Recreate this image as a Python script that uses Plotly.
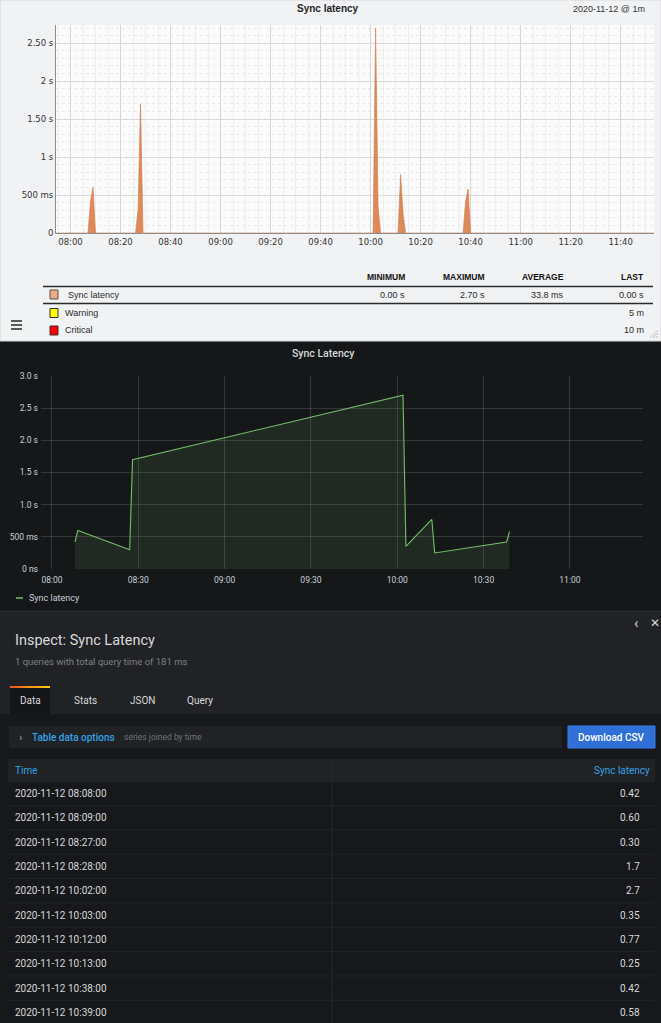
import plotly.graph_objects as go
from datetime import datetime, timedelta

W, H = 661, 1023

# ---------------- data ----------------
times = ["2020-11-12 08:08:00", "2020-11-12 08:09:00", "2020-11-12 08:27:00",
         "2020-11-12 08:28:00", "2020-11-12 10:02:00", "2020-11-12 10:03:00",
         "2020-11-12 10:12:00", "2020-11-12 10:13:00", "2020-11-12 10:38:00",
         "2020-11-12 10:39:00"]
latency = [0.42, 0.60, 0.30, 1.7, 2.7, 0.35, 0.77, 0.25, 0.42, 0.58]

legend_headers = ["MINIMUM", "MAXIMUM", "AVERAGE", "LAST"]
legend_stats = ["0.00 s", "2.70 s", "33.8 ms", "0.00 s"]
threshold_names = ["Warning", "Critical"]
threshold_values = ["5 m", "10 m"]

top_yvals = [0, 0.5, 1, 1.5, 2, 2.5]
top_ylabels = ["0", "500 ms", "1 s", "1.50 s", "2 s", "2.50 s"]
dark_yvals = [0, 0.5, 1, 1.5, 2, 2.5, 3]
dark_ylabels = ["0 ns", "500 ms", "1.0 s", "1.5 s", "2.0 s", "2.5 s", "3.0 s"]
tabs = ["Data", "Stats", "JSON", "Query"]

# zero-filled 1-minute series as the top (Zabbix-style) graph shows it
fmt = "%Y-%m-%d %H:%M:%S"
lookup = {datetime.strptime(t, fmt): v for t, v in zip(times, latency)}
start = datetime(2020, 11, 12, 7, 54)
end = datetime(2020, 11, 12, 11, 54)
grid_t, grid_v = [], []
t = start
while t <= end:
    grid_t.append(t)
    grid_v.append(lookup.get(t, 0.0))
    t += timedelta(minutes=1)


def px(x):
    return x / W


def py(y):
    return 1 - y / H


shapes = []
annotations = []


def rect(x0, y0, x1, y1, fill, line=None, lw=0, layer="below"):
    shapes.append(dict(type="rect", xref="paper", yref="paper",
                       x0=px(x0), x1=px(x1), y0=py(y1), y1=py(y0),
                       fillcolor=fill, layer=layer,
                       line=dict(color=line or fill, width=lw)))


def hline(x0, x1, y, color, lw=1, layer="below"):
    shapes.append(dict(type="line", xref="paper", yref="paper",
                       x0=px(x0), x1=px(x1), y0=py(y), y1=py(y), layer=layer,
                       line=dict(color=color, width=lw)))


def vline(x, y0, y1, color, lw=1, layer="below"):
    shapes.append(dict(type="line", xref="paper", yref="paper",
                       x0=px(x), x1=px(x), y0=py(y0), y1=py(y1), layer=layer,
                       line=dict(color=color, width=lw)))


def text(x, y, s, size, color, anchor="left", family="Liberation Sans", weight="normal"):
    annotations.append(dict(xref="paper", yref="paper", x=px(x), y=py(y), text=s,
                            showarrow=False, xanchor=anchor, yanchor="middle",
                            borderpad=0,
                            font=dict(size=size, color=color, family=family, weight=weight)))


# ---------------- top (light) panel ----------------
rect(0, 0, 661, 341, "#f1f2f4", "#d6d7da", 1)
rect(56, 25, 654, 233, "#fbfbfb")
text(328, 9, "Sync latency", 10, "#1f1f1f", "center", weight="bold")
text(646, 9, "2020-11-12 @ 1m", 9, "#333333", "right")

hdr_x = [406, 486, 565, 645]
for hx, h in zip(hdr_x, legend_headers):
    text(hx, 277, h, 8.5, "#111111", "right", weight="bold")
hline(43, 653, 286.5, "#2a2a2a", 1.3)
rect(50, 290, 58, 299, "#eeab82", "#555555", 1)
text(67, 295, "Sync latency", 9, "#2a2a2a")
for hx, s in zip(hdr_x, legend_stats):
    text(hx, 295, s, 9, "#2a2a2a", "right")
hline(43, 653, 303.5, "#2a2a2a", 1.3)
thr_colors = ["#ffff00", "#ff0000"]
for i, (n, v) in enumerate(zip(threshold_names, threshold_values)):
    yy = 313 + i * 17.5
    rect(50, yy - 4.5, 58, yy + 4.5, thr_colors[i], "#333333", 1)
    text(64, yy, n, 9, "#2a2a2a")
    text(645, yy, v, 9, "#2a2a2a", "right")
for yy in (321, 325, 329):
    hline(11, 22, yy, "#333333", 1.6)
for k in range(3):
    shapes.append(dict(type="line", xref="paper", yref="paper",
                       x0=px(650 + 3 * k), y0=py(338), x1=px(658), y1=py(330 + 3 * k),
                       line=dict(color="#b5b5b5", width=0.8)))

# ---------------- dark panel ----------------
rect(0, 342, 661, 611, "#161719")
hline(0, 661, 611.5, "#2c2d31", 1.5)
text(323, 353, "Sync Latency", 10.5, "#d8d9da", "center", family="Roboto", weight=500)
hline(16, 23, 598, "#73bf69", 1.5)
text(28, 598, "Sync latency", 9, "#c7d0d9", family="Roboto")

# ---------------- inspect drawer ----------------
rect(0, 612, 661, 1023, "#212226")
rect(0, 714, 661, 1023, "#17181b")
text(14, 640, "Inspect: Sync Latency", 14.5, "#d8d9da", family="Roboto")
text(14, 661, "1 queries with total query time of 181 ms", 9.5, "#7b8087", family="Roboto")
text(636, 623, "‹", 15, "#d8d9da", "center", family="Roboto")
text(655, 623, "✕", 12, "#d8d9da", "center", family="DejaVu Sans")
rect(10, 686, 50, 714, "#141619")
grad = ["#f05a28", "#f26a22", "#f47a1c", "#f68a16", "#f89a12", "#faaa0e", "#fbba0b", "#fbca0a"]
for k, c in enumerate(grad):
    rect(10 + k * 5, 686, 15 + k * 5, 688, c)
tab_x = [30, 85, 142, 200]
for tx, tb in zip(tab_x, tabs):
    text(tx, 700, tb, 10, "#d8d9da", "center", family="Roboto")
rect(9, 726, 562, 748, "#212226")
text(20, 737, "›", 11, "#9fa7b3", "center", family="Roboto")
text(31, 737, "Table data options", 10, "#33a2e5", family="Roboto", weight=500)
text(123, 737, "series joined by time", 8.5, "#6e7278", family="Roboto")
rect(568, 726, 655, 748, "#2f6fd8", "#3d7fe6", 1)
text(611.5, 737, "Download CSV", 10, "#ffffff", "center", family="Roboto", weight=500)

rect(8, 759, 655, 782, "#212226")
text(13.5, 770, "Time", 10, "#33a2e5", family="Roboto")
text(651, 770, "Sync latency", 10, "#33a2e5", "right", family="Roboto")
vline(332, 759, 1023, "#25262a", 1)
for i, (tm, v) in enumerate(zip(times, latency)):
    yc = 793.3 + 24.35 * i
    text(13.5, yc, tm, 10, "#d8d9da", family="Roboto")
    vs = f"{v:.1f}" if v >= 1 else f"{v:.2f}"
    text(641, yc, vs, 10, "#d8d9da", "right", family="Roboto")
    hline(8, 655, yc + 12.2, "#222327", 1)

# ---------------- traces ----------------
fig = go.Figure()
fig.add_trace(go.Scatter(x=grid_t, y=grid_v, mode="lines", fill="tozeroy",
                         line=dict(color="#d27a47", width=0.6),
                         fillcolor="#dc8a5a", xaxis="x", yaxis="y",
                         hoverinfo="skip", showlegend=False))
fig.add_trace(go.Scatter(x=times, y=latency, mode="lines", fill="tozeroy",
                         line=dict(color="#73bf69", width=1.1),
                         fillcolor="rgba(115,191,105,0.11)", xaxis="x2", yaxis="y2",
                         hoverinfo="skip", showlegend=False))

top_font = dict(family="DejaVu Sans", size=8.5, color="#333333")
dark_font = dict(family="Roboto", size=8.5, color="#c7d0d9")

fig.update_layout(
    width=W, height=H,
    margin=dict(l=0, r=0, t=0, b=0, pad=0, autoexpand=False),
    paper_bgcolor="#17181b",
    plot_bgcolor="rgba(0,0,0,0)",
    showlegend=False,
    shapes=shapes,
    annotations=annotations,
    xaxis=dict(domain=[px(56), px(654)], anchor="y", type="date",
               range=["2020-11-12 07:54:12", "2020-11-12 11:53:20"],
               tick0="2020-11-12 08:00:00", dtick=1200000, tickformat="%H:%M",
               showgrid=True, gridcolor="#d6d6d6", gridwidth=1,
               minor=dict(dtick=300000, showgrid=True, gridcolor="#eeeeee"),
               showline=True, linecolor="#8c8c8c", linewidth=1, zeroline=False,
               ticks="", tickfont=top_font, fixedrange=True, automargin=False,
               ticklabelstandoff=1),
    yaxis=dict(domain=[py(233), py(25)], anchor="x", range=[0, 2.74],
               tickmode="array", tickvals=top_yvals, ticktext=top_ylabels,
               showgrid=True, gridcolor="#dadada",
               minor=dict(tickmode="linear", tick0=0, dtick=0.1, showgrid=True,
                          gridcolor="#e8e8e8", griddash="dot"),
               showline=True, linecolor="#8c8c8c", linewidth=1, zeroline=False,
               ticks="", tickfont=top_font, fixedrange=True, automargin=False),
    xaxis2=dict(domain=[px(41), px(643)], anchor="y2", type="date",
                range=["2020-11-12 07:56:11", "2020-11-12 11:25:24"],
                tick0="2020-11-12 08:00:00", dtick=1800000, tickformat="%H:%M",
                showgrid=True, gridcolor="rgba(255,255,255,0.13)",
                showline=False, zeroline=False, ticks="",
                tickfont=dark_font, fixedrange=True, automargin=False,
                ticklabelstandoff=4),
    yaxis2=dict(domain=[py(569), py(376)], anchor="x2", range=[0, 3],
                tickmode="array", tickvals=dark_yvals, ticktext=dark_ylabels,
                showgrid=True, gridcolor="rgba(255,255,255,0.13)",
                showline=False, zeroline=False, ticks="",
                tickfont=dark_font, fixedrange=True, automargin=False,
                ticklabelstandoff=2),
)

fig.write_html("out.html", config={"displayModeBar": False, "staticPlot": True})
